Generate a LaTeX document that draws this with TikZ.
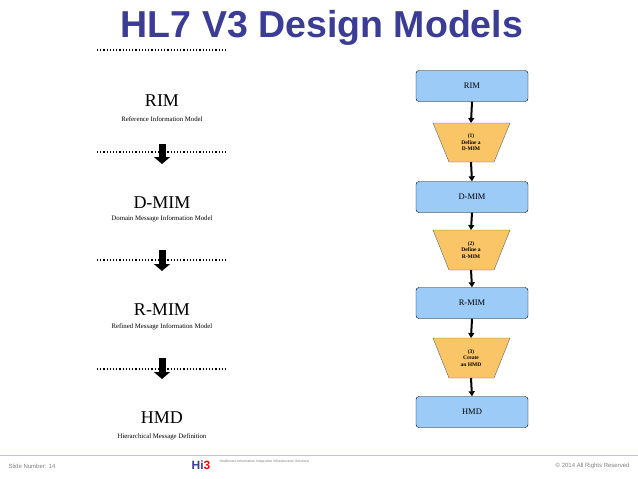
\documentclass[tikz,border=0pt]{standalone}
\usepackage{fontspec}
\setmainfont{Liberation Serif}
\setsansfont{Liberation Sans}
\usetikzlibrary{arrows.meta}
\definecolor{ttl}{HTML}{3A3C96}
\definecolor{bx}{HTML}{9CCBF7}
\definecolor{tr}{HTML}{F9C566}
\tikzset{
 model/.style={font=\fontsize{18}{19}\selectfont},
 sub/.style={font=\fontsize{6.8}{7}\selectfont},
 dots/.style={dotted, line width=1.2pt},
 fat/.style={-{Triangle[length=7pt,width=16pt]}, line width=7pt},
 bluebox/.style={draw, fill=bx, rounded corners=3pt, minimum width=112pt, minimum height=31pt, font=\fontsize{8.5}{9}\selectfont},
 conn/.style={-{Triangle[length=5pt,width=6pt]}, line width=2pt},
 trap/.style={font=\bfseries\fontsize{5.5}{6.5}\selectfont, align=center}
}
\begin{document}
\begin{tikzpicture}[x=1pt,y=-1pt]
\useasboundingbox (0,0) rectangle (638,479);
\node (title) [font=\sffamily\bfseries\fontsize{37.5}{40}\selectfont, text=ttl] at (322,28) {HL7 V3 Design Models};
\draw[dots] (97,50) -- (228,50);
\node (rim) [model] at (162,101) {RIM};
\node (rims) [sub] at (162,119) {Reference Information Model};
\draw[dots] (97,152) -- (228,152);
\draw[fat] (162,144) -- (162,164);
\node (dmim) [model] at (162,203) {D-MIM};
\node (dmims) [sub] at (162,219) {Domain Message Information Model};
\draw[dots] (97,260) -- (228,260);
\draw[fat] (162,250) -- (162,271);
\node (rmim) [model] at (162,310) {R-MIM};
\node (rmims) [sub] at (162,327) {Refined Message Information Model};
\draw[dots] (97,369) -- (228,369);
\draw[fat] (162,358) -- (162,379);
\node (hmd) [model] at (162,418) {HMD};
\node (hmds) [sub] at (162,437) {Hierarchical Message Definition};
% right flow
\node (b1) [bluebox] at (472,86) {RIM};
\node (b2) [bluebox] at (472,197) {D-MIM};
\node (b3) [bluebox] at (472,303) {R-MIM};
\node (b4) [bluebox] at (472,412) {HMD};
\foreach \n/\yt/\yb/\t in {t1/123/162/{(1)\\Define a\\D-MIM}, t2/230/270/{(2)\\Define a\\R-MIM}, t3/338/378/{(3)\\Create\\an HMD}}{
  \draw[fill=tr, draw=black!60] (433,\yt) -- (510,\yt) -- (494,\yb) -- (449,\yb) -- cycle;
  \coordinate (\n top) at (471,\yt);
  \coordinate (\n bot) at (471,\yb);
  \node[trap] at (471,{(\yt+\yb)/2}) {\t};
}
\draw[conn] (b1.south) -- (t1top);
\draw[conn] (t1bot) -- (b2.north);
\draw[conn] (b2.south) -- (t2top);
\draw[conn] (t2bot) -- (b3.north);
\draw[conn] (b3.south) -- (t3top);
\draw[conn] (t3bot) -- (b4.north);
% footer
\draw[line width=1pt, color=blue!20!gray!40] (0,455) -- (638,455);
\node[font=\sffamily\fontsize{6}{7}\selectfont, text=gray, anchor=west] at (5,466) {Slide Number: 14};
\node[font=\sffamily\fontsize{6}{7}\selectfont, text=gray, anchor=east] at (633,466) {© 2014 All Rights Reserved};
\node[font=\sffamily\bfseries\fontsize{12}{12}\selectfont, text=ttl] at (201,465) {Hi\textcolor{red}{3}};
\node[font=\sffamily\fontsize{3.5}{4}\selectfont, text=gray, anchor=west] at (216,462) {Healthcare Information Integration Infrastructure Solutions};
\end{tikzpicture}
\end{document}
